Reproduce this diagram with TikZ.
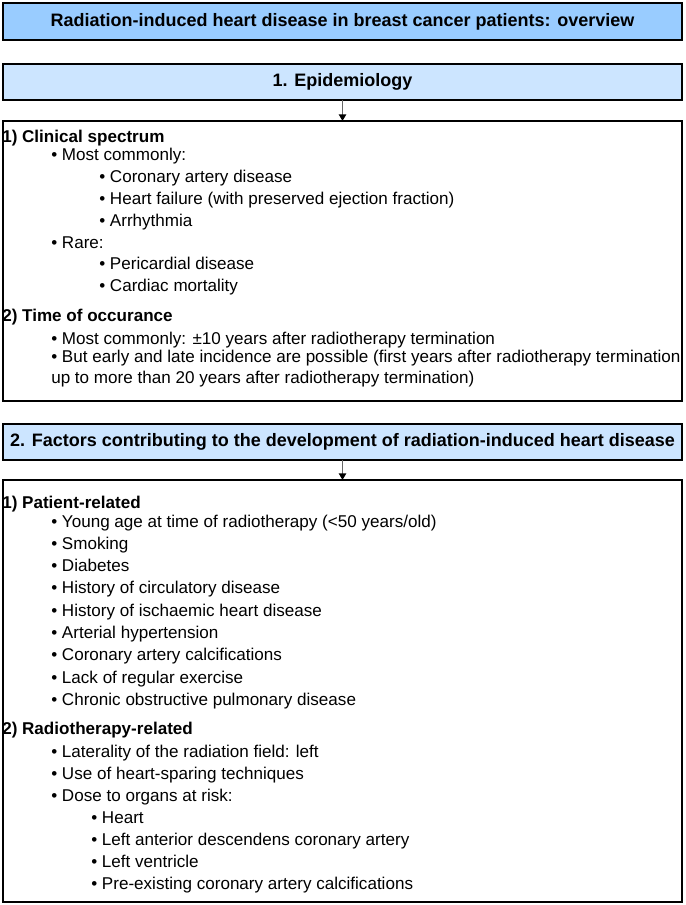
\documentclass[tikz,border=0pt]{standalone}
\usepackage{fontspec}
\setmainfont{Liberation Sans}
\usepackage{tikz}
\usetikzlibrary{positioning, arrows.meta}
\definecolor{titleblue}{HTML}{99CCFF}
\definecolor{headblue}{HTML}{CCE5FF}

\begin{document}
\begin{tikzpicture}[x=0.75pt, y=-0.75pt,
  box/.style={draw, line width=1.5pt, fill=#1, minimum width=509.25pt, outer sep=0pt,
    inner sep=0pt, font=\fontsize{13.5}{16}\selectfont\bfseries, align=center},
  box/.default=white,
  txt/.style={anchor=base west, inner sep=0pt, font=\fontsize{12.8}{15}\selectfont},
  sec/.style={txt, font=\fontsize{12.8}{15}\selectfont\bfseries},
  arr/.style={-{Triangle[length=5pt, width=5.5pt, color=black]}, draw=black!60, line width=1.1pt},
]
  \useasboundingbox (0,0) rectangle (685,905);

  % boxes
  \node[box=titleblue, minimum height=27.75pt] (title) at (342.5,21.5)
    {Radiation-induced heart disease in breast cancer patients: overview};
  \node[box=headblue, minimum height=27pt, below=18pt of title] (epi) {1. Epidemiology};
  \node[box, minimum height=210pt, below=15.75pt of epi] (epibody) {};
  \node[box=headblue, minimum height=27pt, below=17.25pt of epibody] (factors)
    {2. Factors contributing to the development of radiation-induced heart disease};
  \node[box, minimum height=316.5pt, below=15pt of factors] (factbody) {};

  \draw[arr] (epi) -- (epibody);
  \draw[arr] (factors) -- (factbody);

  % epidemiology
  \node[sec] (spectrum) at (2,143) {1) Clinical spectrum};
  \node[txt] (common) at (51,161) {• Most commonly:};
  \node[txt] (cad) at (99,182.8) {• Coronary artery disease};
  \node[txt] (hf) at (99,204.6) {• Heart failure (with preserved ejection fraction)};
  \node[txt] (arrh) at (99,226.4) {• Arrhythmia};
  \node[txt] (rare) at (51,248.2) {• Rare:};
  \node[txt] (peri) at (99,270) {• Pericardial disease};
  \node[txt] (mort) at (99,291.8) {• Cardiac mortality};
  \node[sec] (time) at (2,321.5) {2) Time of occurance};
  \node[txt] (tcommon) at (51,344) {• Most commonly: ±10 years after radiotherapy termination};
  \node[txt] (early) at (51,362.5) {• But early and late incidence are possible (first years after radiotherapy termination};
  \node[txt] (early2) at (51,383.5) {up to more than 20 years after radiotherapy termination)};

  % factors
  \node[sec] (patient) at (2,508) {1) Patient-related};
  \node[txt] (age) at (51,527) {• Young age at time of radiotherapy (<50 years/old)};
  \node[txt] (smoke) at (51,549.3) {• Smoking};
  \node[txt] (diab) at (51,571.6) {• Diabetes};
  \node[txt] (circ) at (51,593.9) {• History of circulatory disease};
  \node[txt] (isch) at (51,616.2) {• History of ischaemic heart disease};
  \node[txt] (hyper) at (51,638.5) {• Arterial hypertension};
  \node[txt] (calc) at (51,660.8) {• Coronary artery calcifications};
  \node[txt] (exer) at (51,683.1) {• Lack of regular exercise};
  \node[txt] (copd) at (51,705.4) {• Chronic obstructive pulmonary disease};
  \node[sec] (radio) at (2,734) {2) Radiotherapy-related};
  \node[txt] (later) at (51,757) {• Laterality of the radiation field: left};
  \node[txt] (spare) at (51,779) {• Use of heart-sparing techniques};
  \node[txt] (dose) at (51,801) {• Dose to organs at risk:};
  \node[txt] (heart) at (91,823) {• Heart};
  \node[txt] (lad) at (91,845) {• Left anterior descendens coronary artery};
  \node[txt] (lv) at (91,867) {• Left ventricle};
  \node[txt] (preex) at (91,889) {• Pre-existing coronary artery calcifications};
\end{tikzpicture}
\end{document}
